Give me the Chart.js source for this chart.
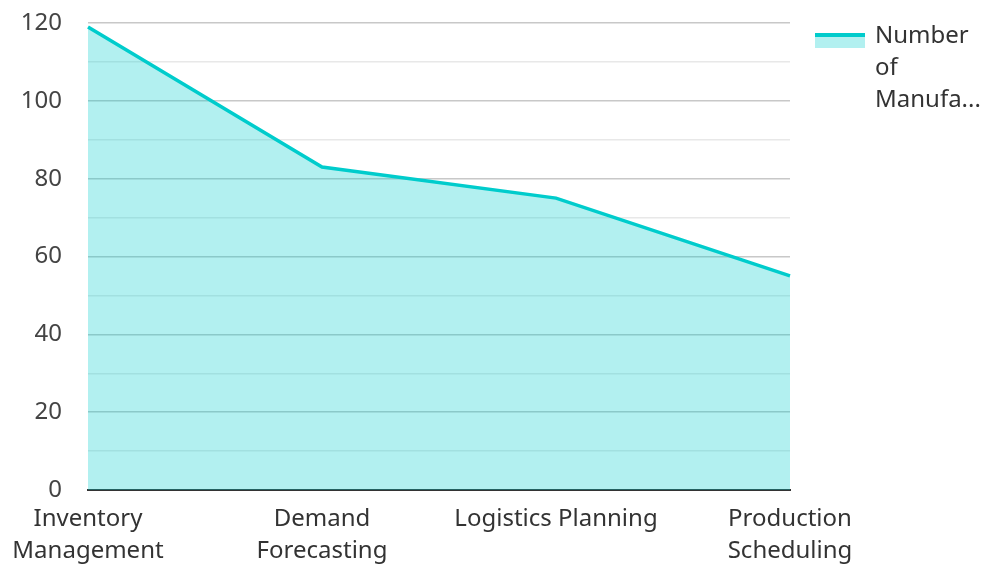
<!DOCTYPE html>
<html>
<head>
<meta charset="utf-8">
<script src="https://cdn.jsdelivr.net/npm/chart.js@4.4.0/dist/chart.umd.min.js"></script>
<style>
html, body { margin: 0; padding: 0; background: #fff; }
</style>
</head>
<body>
<canvas id="chart" width="985" height="564"></canvas>
<script>
const categories = [['Inventory', 'Management'], ['Demand', 'Forecasting'], 'Logistics Planning', ['Production', 'Scheduling']];
const manufacturers = [119, 83, 75, 55];
const seriesLabel = 'Number of Manufacturers';
const legendLines = ['Number', 'of', 'Manufa...']; // legend text as truncated in the picture
const yLabelTicks = [0, 20, 40, 60, 80, 100, 120];

const lineColor = '#00cccc';
const fillColor = 'rgba(0, 204, 204, 0.3)';

// simple legend on the right, wrapped like the original
const sideLegend = {
    id: 'sideLegend',
    afterDraw(chart) {
        const ctx = chart.ctx;
        const ds = chart.data.datasets[0];
        const x = chart.chartArea.right + 25;
        ctx.save();
        ctx.fillStyle = ds.backgroundColor;
        ctx.fillRect(x, 33, 50, 15);
        ctx.fillStyle = ds.borderColor;
        ctx.fillRect(x, 33, 50, 4);
        ctx.font = '24px "Noto Sans"';
        ctx.fillStyle = '#333';
        ctx.textBaseline = 'middle';
        legendLines.forEach((t, i) => ctx.fillText(t, x + 60, 36 + i * 32));
        ctx.restore();
    }
};

const ctx = document.getElementById('chart').getContext('2d');
new Chart(ctx, {
    type: 'line',
    data: {
        labels: categories,
        datasets: [{
            label: seriesLabel,
            data: manufacturers,
            borderColor: lineColor,
            backgroundColor: fillColor,
            borderWidth: 3.5,
            fill: 'origin',
            pointRadius: 0,
            tension: 0
        }]
    },
    options: {
        responsive: false,
        animation: false,
        layout: { padding: { top: 23, right: 195, left: 0, bottom: 0 } },
        plugins: {
            legend: { display: false },
            tooltip: { enabled: false }
        },
        scales: {
            x: {
                offset: false,
                grid: { display: false, drawTicks: false },
                border: { display: true, color: '#333', width: 2 },
                ticks: {
                    color: '#333',
                    padding: 13,
                    maxRotation: 0,
                    autoSkip: false,
                    font: { family: 'Noto Sans', size: 24, lineHeight: 1.333 }
                },
                afterFit: scale => {
                    scale.height = 74;
                    scale.paddingLeft = 0;
                    scale.paddingRight = 0;
                }
            },
            y: {
                min: 0,
                max: 120,
                grid: {
                    drawTicks: false,
                    color: c => (c.tick && c.tick.value % 20 === 0) ? '#c8c8c8' : '#e8e8e8',
                    lineWidth: 1.5
                },
                border: { display: false },
                ticks: {
                    stepSize: 10,
                    color: '#444',
                    padding: 26,
                    font: { family: 'Noto Sans', size: 24 },
                    callback: v => yLabelTicks.includes(v) ? v : ''
                },
                afterFit: scale => {
                    scale.width = 88;
                    scale.paddingTop = 0;
                    scale.paddingBottom = 0;
                }
            }
        }
    },
    plugins: [sideLegend]
});
</script>
</body>
</html>
